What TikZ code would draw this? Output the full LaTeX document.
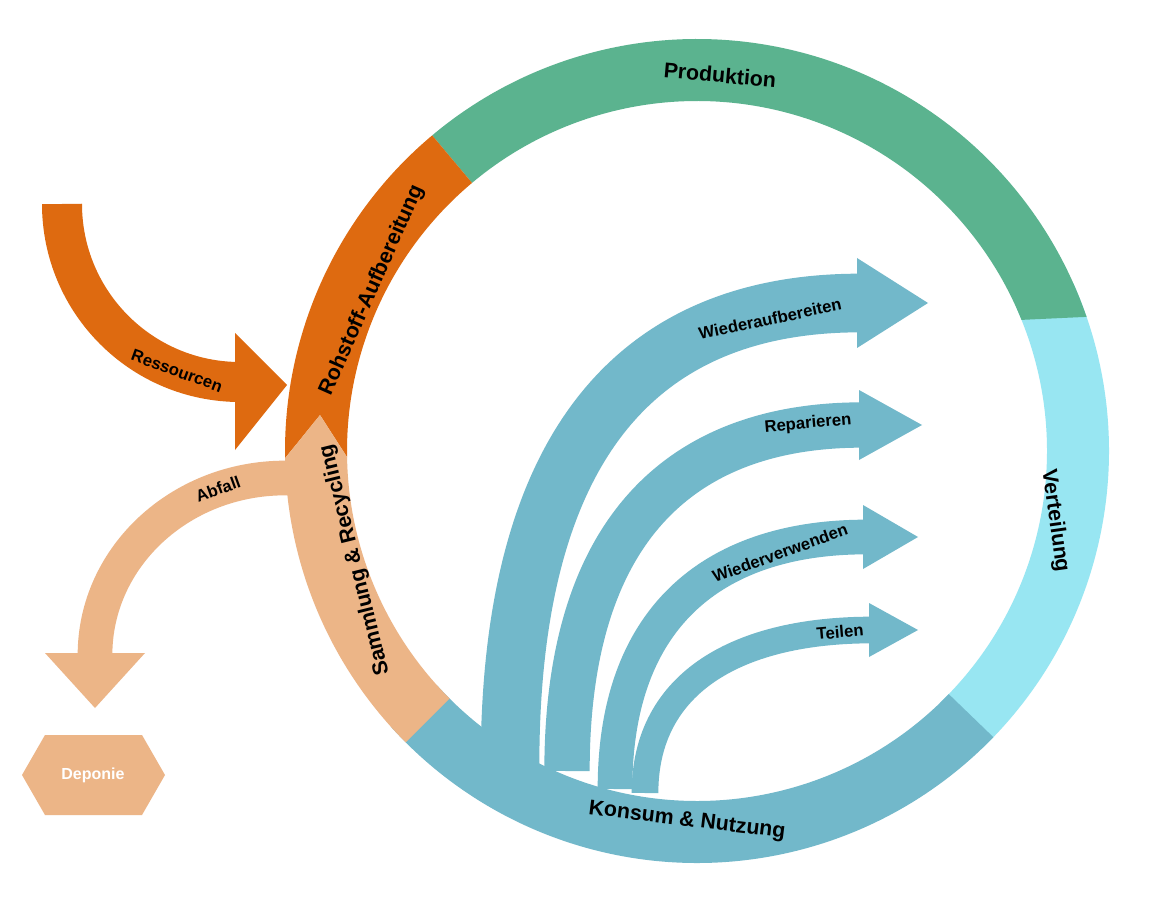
\documentclass[tikz,border=0pt]{standalone}
\usepackage{fontspec}
\usetikzlibrary{calc}
\setmainfont{Liberation Sans}
\definecolor{gr}{HTML}{5BB38F}
\definecolor{or}{HTML}{DE6A10}
\definecolor{lo}{HTML}{ECB587}
\definecolor{bl}{HTML}{72B8CA}
\definecolor{cy}{HTML}{98E6F2}
\begin{document}
\begin{tikzpicture}[x=0.75pt,y=0.75pt,
  ring/.style={font=\bfseries\fontsize{16}{18}\selectfont,inner sep=1pt},
  lab/.style={font=\bfseries\fontsize{12.5}{14}\selectfont,inner sep=1pt}]
\useasboundingbox (0,0) rectangle (1152,901);
\fill[white] (0,0) rectangle (1152,901);
\coordinate (c) at (697,450);
% Ressourcen
\draw[or,line width=30pt] (62,697) arc[start angle=180,end angle=270,radius=178] coordinate (re);
\fill[or] (235,568) -- (287,516) -- (235,451) -- cycle;
\node[lab,rotate=-20] (tres) at (177,530) {Ressourcen};
% Abfall
\draw[lo,line width=26pt] (300,423) -- (285,423) arc[start angle=90,end angle=180,x radius=190,y radius=177] coordinate (ab);
\fill[lo] (45,248) -- (145,248) -- (95,193) -- cycle;
\node[lab,rotate=20] (tab) at (218,412) {Abfall};
% Deponie
\fill[lo] (22,126) -- (45,166) -- (142,166) -- (165,126) -- (142,86) -- (45,86) -- cycle;
\node[text=white,font=\bfseries\fontsize{12}{14}\selectfont] (dep) at (93,126) {Deponie};
% ring
\fill[cy] ($(c)+(-46:412)$) arc[start angle=-46,end angle=24,radius=412] -- ($(c)+(24:350)$) arc[start angle=24,end angle=-46,radius=350] -- cycle;
\fill[gr] ($(c)+(19:412)$) arc[start angle=19,end angle=130,radius=412] -- ($(c)+(130:350)$) arc[start angle=130,end angle=22,radius=350] -- cycle;
\fill[bl] ($(c)+(222:412)$) arc[start angle=222,end angle=316,radius=412] -- ($(c)+(316:350)$) arc[start angle=316,end angle=222,radius=350] -- cycle;
\fill[or] ($(c)+(130:412)$) arc[start angle=130,end angle=181,radius=412] -- (320,486) -- ($(c)+(181:350)$) arc[start angle=181,end angle=130,radius=350] -- cycle;
\fill[lo] (320,486) -- ($(c)+(181:412)$) arc[start angle=181,end angle=225,radius=412] -- ($(c)+(225:350)$) arc[start angle=225,end angle=181,radius=350] -- cycle;
\node[ring,rotate=-5] (tp) at (720,826) {Produktion};
\node[ring,rotate=66] (tr) at (372,611) {Rohstoff-Aufbereitung};
\node[ring,rotate=104] (ts) at (355,341) {Sammlung \& Recycling};
\node[ring,rotate=-82] (tv) at (1055,380) {Verteilung};
\node[ring,rotate=-7] (tk) at (687,80) {Konsum \& Nutzung};
% inner arrows
\draw[bl,line width=44pt] (510,136) .. controls (510,471) and (650,598) .. (860,598);
\fill[bl] (857,643) -- (928,598) -- (857,553) -- cycle;
\draw[bl,line width=34pt] (567,130) .. controls (567,381) and (690,476) .. (862,476);
\fill[bl] (859,511) -- (922,476) -- (859,441) -- cycle;
\draw[bl,line width=26pt] (615,112) .. controls (615,290) and (720,364) .. (866,364);
\fill[bl] (863,396) -- (918,364) -- (863,332) -- cycle;
\draw[bl,line width=20pt] (645,108) .. controls (645,220) and (740,271) .. (872,271);
\fill[bl] (869,298) -- (918,271) -- (869,244) -- cycle;
\node[lab,rotate=12] (t1) at (770,582) {Wiederaufbereiten};
\node[lab,rotate=5] (t2) at (808,477) {Reparieren};
\node[lab,rotate=20] (t3) at (780,348) {Wiederverwenden};
\node[lab,rotate=5] (t4) at (840,269) {Teilen};
\end{tikzpicture}
\end{document}
